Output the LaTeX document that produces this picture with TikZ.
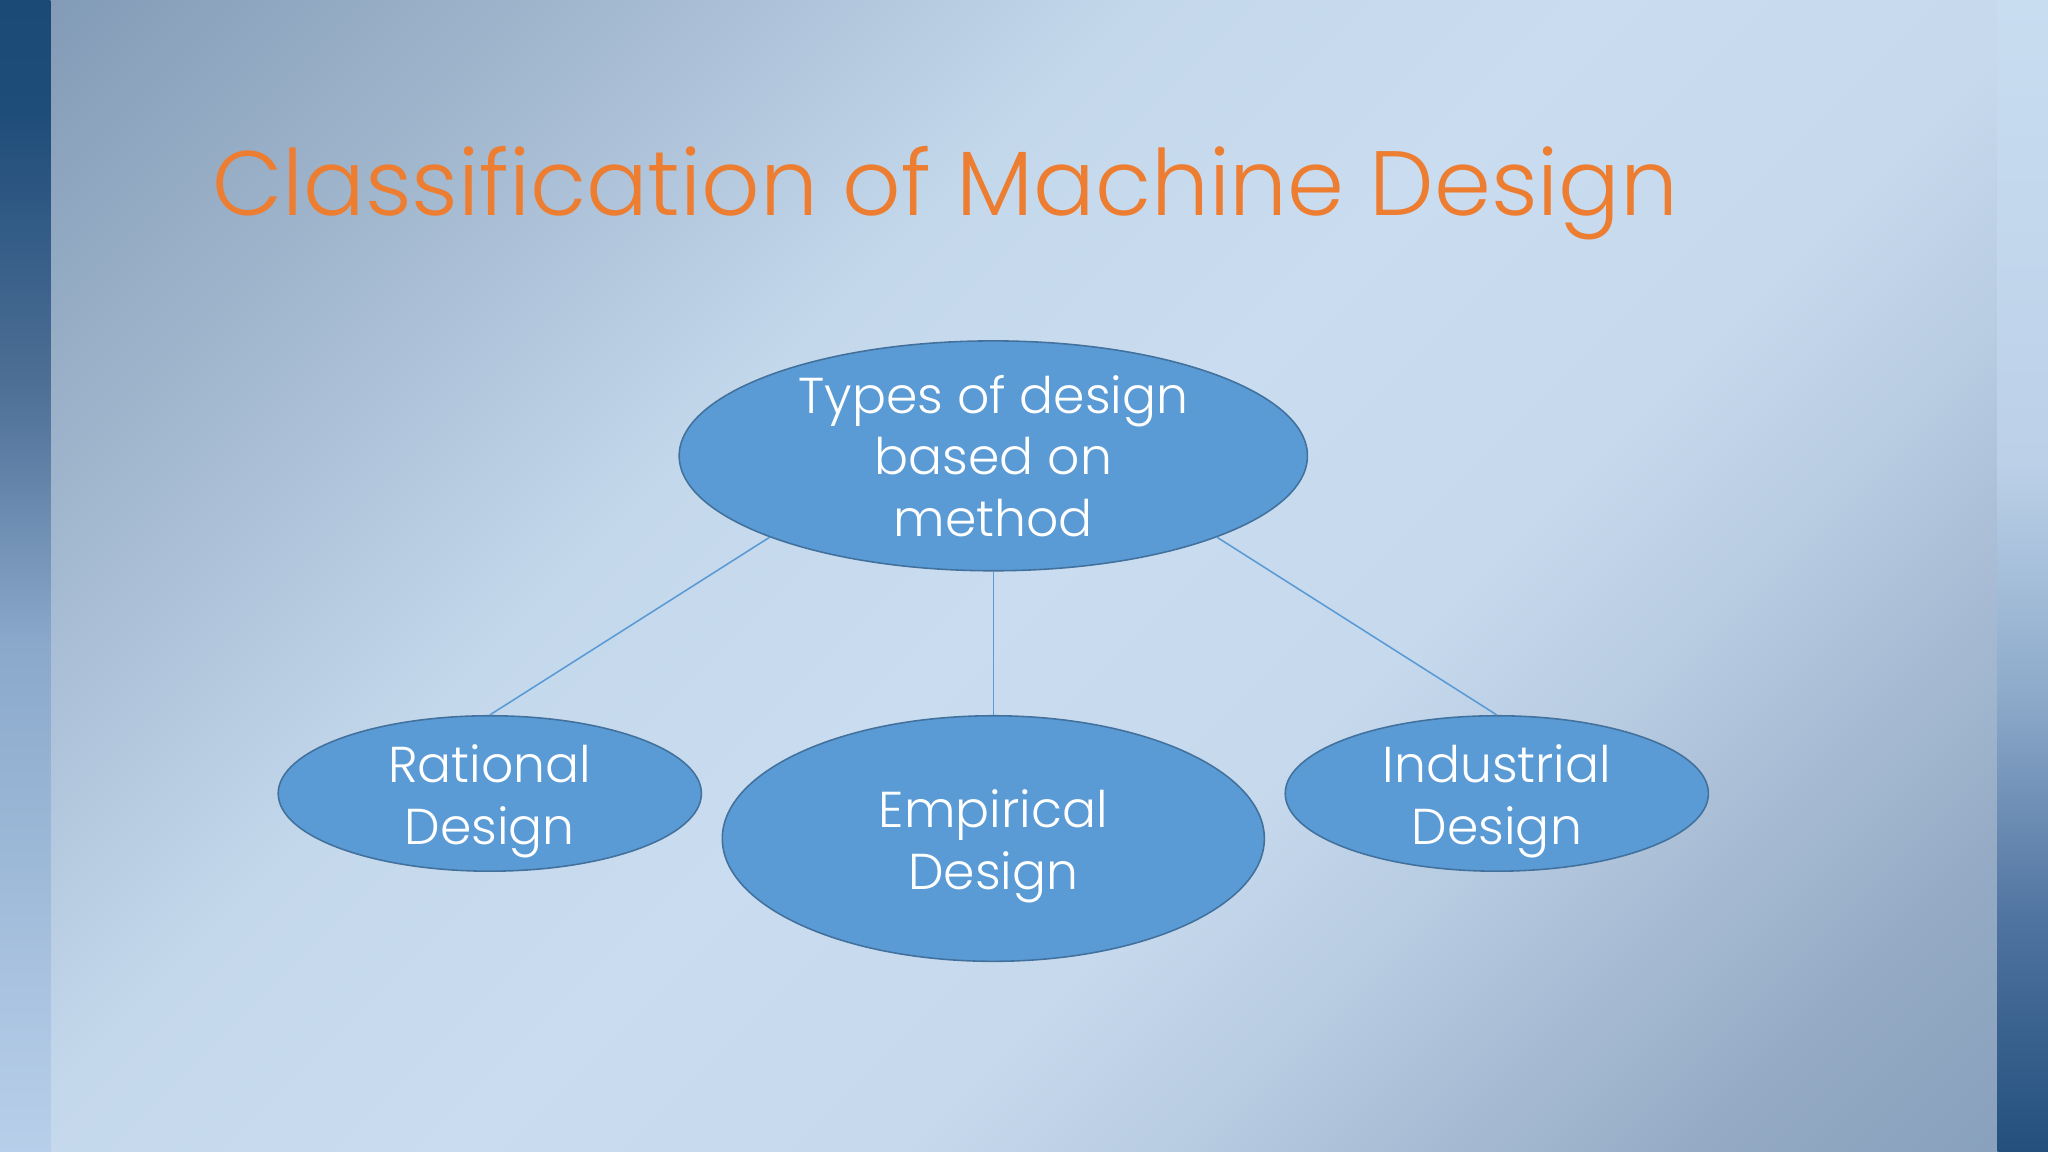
\documentclass[tikz,border=0pt]{standalone}
\usepackage{fontspec}
\newfontfamily\pop{Poppins Light}
\usetikzlibrary{shapes.geometric}
\definecolor{bgA}{HTML}{8099B4}
\definecolor{bgB}{HTML}{A0B6CD}
\definecolor{bgC}{HTML}{C4D8EC}
\definecolor{bgD}{HTML}{CADCEF}
\definecolor{bgE}{HTML}{C6D9ED}
\definecolor{bgF}{HTML}{B8CCE2}
\definecolor{bgG}{HTML}{94AAC4}
\definecolor{bgH}{HTML}{869FBB}
\definecolor{lbA}{HTML}{B8CFEA}
\definecolor{lbB}{HTML}{8AA9CB}
\definecolor{lbC}{HTML}{4F7097}
\definecolor{lbD}{HTML}{1F4D79}
\definecolor{lbE}{HTML}{1B4A76}
\definecolor{rbA}{HTML}{234F7C}
\definecolor{rbB}{HTML}{4F73A0}
\definecolor{rbC}{HTML}{8EABCB}
\definecolor{rbD}{HTML}{BCD1E8}
\definecolor{rbE}{HTML}{C9DDF1}
\definecolor{nodeFill}{HTML}{5B9BD5}
\definecolor{nodeBorder}{HTML}{41719C}
\definecolor{titleOrange}{HTML}{ED7D31}
\pgfdeclarehorizontalshading{bgshade}{100bp}{color(0bp)=(bgA); color(14.6bp)=(bgA); color(27bp)=(bgB); color(40bp)=(bgC); color(50bp)=(bgD); color(60bp)=(bgE); color(66bp)=(bgF); color(78bp)=(bgG); color(85.4bp)=(bgH); color(100bp)=(bgH)}
\pgfdeclareverticalshading{lbarshade}{100bp}{color(0bp)=(lbA); color(25bp)=(lbA); color(47bp)=(lbB); color(58bp)=(lbC); color(70bp)=(lbD); color(75bp)=(lbE); color(100bp)=(lbE)}
\pgfdeclareverticalshading{rbarshade}{100bp}{color(0bp)=(rbA); color(25bp)=(rbA); color(35bp)=(rbB); color(45bp)=(rbC); color(55bp)=(rbD); color(75bp)=(rbE); color(100bp)=(rbE)}
\tikzset{
  blob/.style={ellipse, draw=nodeBorder, line width=0.6pt, fill=nodeFill,
    inner sep=0pt},
  blobtext/.style={text=white, inner sep=0pt, align=center,
    font=\pop\fontsize{19.3}{23.5}\selectfont},
  lowtext/.style={blobtext, yshift=-3pt},
  link/.style={draw=nodeFill, line width=0.6pt},
  titletext/.style={anchor=base west, inner sep=0pt, text=titleOrange,
    font=\pop\fontsize{35}{38}\selectfont}
}
\begin{document}
\begin{tikzpicture}[x=0.5pt,y=-0.5pt]
\useasboundingbox (0,0) rectangle (1568,882);
\fill[shading=bgshade, shading angle=-45] (0,0) rectangle (1568,882);
\fill[shading=lbarshade] (0,0) rectangle (38.5,882);
\fill[shading=rbarshade] (1529.5,0) rectangle (1568,882);
\node[titletext] (title) at (162,165) {Classification of Machine Design};
\node[blob, minimum width=240.5pt, minimum height=88pt,
  label={[blobtext]center:Types of design\\based on\\method}] (top) at (760.5,349) {};
\node[blob, minimum width=162pt, minimum height=59.5pt,
  label={[lowtext]center:Rational\\Design}] (rat) at (375,607.5) {};
\node[blob, minimum width=207.5pt, minimum height=94pt,
  label={[lowtext]center:Empirical\\Design}] (emp) at (760.5,642) {};
\node[blob, minimum width=162pt, minimum height=59.5pt,
  label={[lowtext]center:Industrial\\Design}] (ind) at (1146,607.5) {};
\draw[link] (top.200) -- (rat.north);
\draw[link] (top.south) -- (emp.north);
\draw[link] (top.340) -- (ind.north);
\end{tikzpicture}
\end{document}
